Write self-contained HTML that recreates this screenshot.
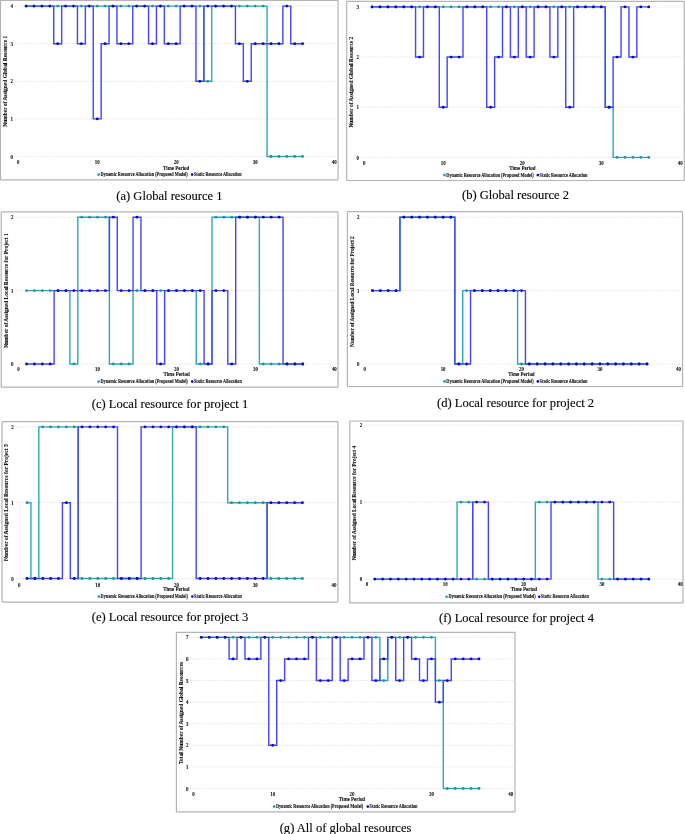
<!DOCTYPE html>
<html><head><meta charset="utf-8"><title>Resource allocation charts</title>
<style>
html,body{margin:0;padding:0;background:#fff;}
body{width:685px;height:834px;position:relative;overflow:hidden;}
text{font-family:"Liberation Serif","Times New Roman",serif;}
.tk{font-size:5.8px;font-weight:bold;fill:#111;stroke:#111;stroke-width:0.1px;}
.tp{font-size:5.8px;font-weight:bold;fill:#111;stroke:#111;stroke-width:0.1px;}
.yt{font-size:5.45px;font-weight:bold;fill:#111;stroke:#111;stroke-width:0.1px;}
.lg{font-size:5.35px;font-weight:bold;fill:#111;stroke:#111;stroke-width:0.1px;}
.cap{font-size:12.55px;fill:#000;stroke:#000;stroke-width:0.12px;}
</style></head><body>
<svg width="685" height="834" viewBox="0 0 685 834" style="position:absolute;left:0;top:0;filter:blur(0.3px)">
<g id="chart-a"><rect x="0.5" y="0.5" width="337.6" height="179.4" rx="0.6" fill="#fff" stroke="#b4b4b4" stroke-width="1.2"/>
<line x1="15" y1="156.5" x2="337" y2="156.5" stroke="#d8d8d8" stroke-width="0.8" stroke-dasharray="1 1.3"/>
<line x1="15" y1="118.9" x2="337" y2="118.9" stroke="#d8d8d8" stroke-width="0.8" stroke-dasharray="1 1.3"/>
<line x1="15" y1="81.3" x2="337" y2="81.3" stroke="#d8d8d8" stroke-width="0.8" stroke-dasharray="1 1.3"/>
<line x1="15" y1="43.7" x2="337" y2="43.7" stroke="#d8d8d8" stroke-width="0.8" stroke-dasharray="1 1.3"/>
<line x1="15" y1="6.1" x2="337" y2="6.1" stroke="#d8d8d8" stroke-width="0.8" stroke-dasharray="1 1.3"/>
<text transform="translate(13,158.6) scale(0.85,1)" class="tk" text-anchor="end">0</text>
<text transform="translate(13,121) scale(0.85,1)" class="tk" text-anchor="end">1</text>
<text transform="translate(13,83.4) scale(0.85,1)" class="tk" text-anchor="end">2</text>
<text transform="translate(13,45.8) scale(0.85,1)" class="tk" text-anchor="end">3</text>
<text transform="translate(13,8.2) scale(0.85,1)" class="tk" text-anchor="end">4</text>
<text transform="translate(18.2,163.9) scale(0.85,1)" class="tk" text-anchor="middle">0</text>
<text transform="translate(97.2,163.9) scale(0.85,1)" class="tk" text-anchor="middle">10</text>
<text transform="translate(176.2,163.9) scale(0.85,1)" class="tk" text-anchor="middle">20</text>
<text transform="translate(255.2,163.9) scale(0.85,1)" class="tk" text-anchor="middle">30</text>
<text transform="translate(334.2,163.9) scale(0.85,1)" class="tk" text-anchor="middle">40</text>
<text transform="translate(176.2,169.6) scale(0.86,1)" class="tp" text-anchor="middle">Time Period</text>
<text transform="translate(7.4,81.3) rotate(-90)" class="yt" text-anchor="middle">Number of Assigned Global Resource 1</text>
<circle cx="98.6" cy="174.6" r="1.3" fill="#1399a6"/>
<text transform="translate(100.4,176.3) scale(0.8,1)" class="lg">Dynamic Resource Allocation (Proposed Model)</text>
<circle cx="192.1" cy="174.6" r="1.3" fill="#0000e8"/>
<text transform="translate(193.9,176.3) scale(0.8,1)" class="lg">Static Resource Allocation</text>
<path d="M26.1,6.1H203.85V81.3H211.75V6.1H267.05V156.5H302.6" fill="none" stroke="#2ea8b4" stroke-width="1.4" stroke-linejoin="miter"/>
<circle cx="26.1" cy="6.1" r="1.4" fill="#1399a6"/>
<circle cx="34" cy="6.1" r="1.4" fill="#1399a6"/>
<circle cx="41.9" cy="6.1" r="1.4" fill="#1399a6"/>
<circle cx="49.8" cy="6.1" r="1.4" fill="#1399a6"/>
<circle cx="57.7" cy="6.1" r="1.4" fill="#1399a6"/>
<circle cx="65.6" cy="6.1" r="1.4" fill="#1399a6"/>
<circle cx="73.5" cy="6.1" r="1.4" fill="#1399a6"/>
<circle cx="81.4" cy="6.1" r="1.4" fill="#1399a6"/>
<circle cx="89.3" cy="6.1" r="1.4" fill="#1399a6"/>
<circle cx="97.2" cy="6.1" r="1.4" fill="#1399a6"/>
<circle cx="105.1" cy="6.1" r="1.4" fill="#1399a6"/>
<circle cx="113" cy="6.1" r="1.4" fill="#1399a6"/>
<circle cx="120.9" cy="6.1" r="1.4" fill="#1399a6"/>
<circle cx="128.8" cy="6.1" r="1.4" fill="#1399a6"/>
<circle cx="136.7" cy="6.1" r="1.4" fill="#1399a6"/>
<circle cx="144.6" cy="6.1" r="1.4" fill="#1399a6"/>
<circle cx="152.5" cy="6.1" r="1.4" fill="#1399a6"/>
<circle cx="160.4" cy="6.1" r="1.4" fill="#1399a6"/>
<circle cx="168.3" cy="6.1" r="1.4" fill="#1399a6"/>
<circle cx="176.2" cy="6.1" r="1.4" fill="#1399a6"/>
<circle cx="184.1" cy="6.1" r="1.4" fill="#1399a6"/>
<circle cx="192" cy="6.1" r="1.4" fill="#1399a6"/>
<circle cx="199.9" cy="6.1" r="1.4" fill="#1399a6"/>
<circle cx="207.8" cy="81.3" r="1.4" fill="#1399a6"/>
<circle cx="215.7" cy="6.1" r="1.4" fill="#1399a6"/>
<circle cx="223.6" cy="6.1" r="1.4" fill="#1399a6"/>
<circle cx="231.5" cy="6.1" r="1.4" fill="#1399a6"/>
<circle cx="239.4" cy="6.1" r="1.4" fill="#1399a6"/>
<circle cx="247.3" cy="6.1" r="1.4" fill="#1399a6"/>
<circle cx="255.2" cy="6.1" r="1.4" fill="#1399a6"/>
<circle cx="263.1" cy="6.1" r="1.4" fill="#1399a6"/>
<circle cx="271" cy="156.5" r="1.4" fill="#1399a6"/>
<circle cx="278.9" cy="156.5" r="1.4" fill="#1399a6"/>
<circle cx="286.8" cy="156.5" r="1.4" fill="#1399a6"/>
<circle cx="294.7" cy="156.5" r="1.4" fill="#1399a6"/>
<circle cx="302.6" cy="156.5" r="1.4" fill="#1399a6"/>
<path d="M26.1,6.1H53.75V43.7H61.65V6.1H77.45V43.7H85.35V6.1H93.25V118.9H101.15V43.7H109.05V6.1H116.95V43.7H132.75V6.1H148.55V43.7H156.45V6.1H164.35V43.7H180.15V6.1H195.95V81.3H203.85V6.1H235.45V43.7H243.35V81.3H251.25V43.7H282.85V6.1H290.75V43.7H302.6" fill="none" stroke="#4444ff" stroke-width="1.4" stroke-linejoin="miter"/>
<circle cx="26.1" cy="6.1" r="1.4" fill="#0000e8"/>
<circle cx="34" cy="6.1" r="1.4" fill="#0000e8"/>
<circle cx="41.9" cy="6.1" r="1.4" fill="#0000e8"/>
<circle cx="49.8" cy="6.1" r="1.4" fill="#0000e8"/>
<circle cx="57.7" cy="43.7" r="1.4" fill="#0000e8"/>
<circle cx="65.6" cy="6.1" r="1.4" fill="#0000e8"/>
<circle cx="73.5" cy="6.1" r="1.4" fill="#0000e8"/>
<circle cx="81.4" cy="43.7" r="1.4" fill="#0000e8"/>
<circle cx="89.3" cy="6.1" r="1.4" fill="#0000e8"/>
<circle cx="97.2" cy="118.9" r="1.4" fill="#0000e8"/>
<circle cx="105.1" cy="43.7" r="1.4" fill="#0000e8"/>
<circle cx="113" cy="6.1" r="1.4" fill="#0000e8"/>
<circle cx="120.9" cy="43.7" r="1.4" fill="#0000e8"/>
<circle cx="128.8" cy="43.7" r="1.4" fill="#0000e8"/>
<circle cx="136.7" cy="6.1" r="1.4" fill="#0000e8"/>
<circle cx="144.6" cy="6.1" r="1.4" fill="#0000e8"/>
<circle cx="152.5" cy="43.7" r="1.4" fill="#0000e8"/>
<circle cx="160.4" cy="6.1" r="1.4" fill="#0000e8"/>
<circle cx="168.3" cy="43.7" r="1.4" fill="#0000e8"/>
<circle cx="176.2" cy="43.7" r="1.4" fill="#0000e8"/>
<circle cx="184.1" cy="6.1" r="1.4" fill="#0000e8"/>
<circle cx="192" cy="6.1" r="1.4" fill="#0000e8"/>
<circle cx="199.9" cy="81.3" r="1.4" fill="#0000e8"/>
<circle cx="207.8" cy="6.1" r="1.4" fill="#0000e8"/>
<circle cx="215.7" cy="6.1" r="1.4" fill="#0000e8"/>
<circle cx="223.6" cy="6.1" r="1.4" fill="#0000e8"/>
<circle cx="231.5" cy="6.1" r="1.4" fill="#0000e8"/>
<circle cx="239.4" cy="43.7" r="1.4" fill="#0000e8"/>
<circle cx="247.3" cy="81.3" r="1.4" fill="#0000e8"/>
<circle cx="255.2" cy="43.7" r="1.4" fill="#0000e8"/>
<circle cx="263.1" cy="43.7" r="1.4" fill="#0000e8"/>
<circle cx="271" cy="43.7" r="1.4" fill="#0000e8"/>
<circle cx="278.9" cy="43.7" r="1.4" fill="#0000e8"/>
<circle cx="286.8" cy="6.1" r="1.4" fill="#0000e8"/>
<circle cx="294.7" cy="43.7" r="1.4" fill="#0000e8"/>
<circle cx="302.6" cy="43.7" r="1.4" fill="#0000e8"/>
<text x="116.3" y="200.3" class="cap">(a) Global resource 1</text></g>
<g id="chart-b"><rect x="346.7" y="1.4" width="337.6" height="179.1" rx="0.6" fill="#fff" stroke="#b4b4b4" stroke-width="1.2"/>
<line x1="361.2" y1="157.4" x2="683" y2="157.4" stroke="#d8d8d8" stroke-width="0.8" stroke-dasharray="1 1.3"/>
<line x1="361.2" y1="107.23" x2="683" y2="107.23" stroke="#d8d8d8" stroke-width="0.8" stroke-dasharray="1 1.3"/>
<line x1="361.2" y1="57.06" x2="683" y2="57.06" stroke="#d8d8d8" stroke-width="0.8" stroke-dasharray="1 1.3"/>
<line x1="361.2" y1="6.89" x2="683" y2="6.89" stroke="#d8d8d8" stroke-width="0.8" stroke-dasharray="1 1.3"/>
<text transform="translate(358.9,159.5) scale(0.85,1)" class="tk" text-anchor="end">0</text>
<text transform="translate(358.9,109.33) scale(0.85,1)" class="tk" text-anchor="end">1</text>
<text transform="translate(358.9,59.16) scale(0.85,1)" class="tk" text-anchor="end">2</text>
<text transform="translate(358.9,8.99) scale(0.85,1)" class="tk" text-anchor="end">3</text>
<text transform="translate(364.2,165.3) scale(0.85,1)" class="tk" text-anchor="middle">0</text>
<text transform="translate(443.23,165.3) scale(0.85,1)" class="tk" text-anchor="middle">10</text>
<text transform="translate(522.26,165.3) scale(0.85,1)" class="tk" text-anchor="middle">20</text>
<text transform="translate(601.29,165.3) scale(0.85,1)" class="tk" text-anchor="middle">30</text>
<text transform="translate(680.32,165.3) scale(0.85,1)" class="tk" text-anchor="middle">40</text>
<text transform="translate(522.4,170) scale(0.86,1)" class="tp" text-anchor="middle">Time Period</text>
<text transform="translate(353,82.15) rotate(-90)" class="yt" text-anchor="middle">Number of Assigned Global Resource 2</text>
<circle cx="444.5" cy="175.1" r="1.3" fill="#1399a6"/>
<text transform="translate(446.3,176.8) scale(0.8,1)" class="lg">Dynamic Resource Allocation (Proposed Model)</text>
<circle cx="537.8" cy="175.1" r="1.3" fill="#0000e8"/>
<text transform="translate(539.6,176.8) scale(0.8,1)" class="lg">Static Resource Allocation</text>
<path d="M372.1,6.89H605.24V107.23H613.14V157.4H648.71" fill="none" stroke="#2ea8b4" stroke-width="1.4" stroke-linejoin="miter"/>
<circle cx="372.1" cy="6.89" r="1.4" fill="#1399a6"/>
<circle cx="380.01" cy="6.89" r="1.4" fill="#1399a6"/>
<circle cx="387.91" cy="6.89" r="1.4" fill="#1399a6"/>
<circle cx="395.81" cy="6.89" r="1.4" fill="#1399a6"/>
<circle cx="403.71" cy="6.89" r="1.4" fill="#1399a6"/>
<circle cx="411.62" cy="6.89" r="1.4" fill="#1399a6"/>
<circle cx="419.52" cy="6.89" r="1.4" fill="#1399a6"/>
<circle cx="427.42" cy="6.89" r="1.4" fill="#1399a6"/>
<circle cx="435.33" cy="6.89" r="1.4" fill="#1399a6"/>
<circle cx="443.23" cy="6.89" r="1.4" fill="#1399a6"/>
<circle cx="451.13" cy="6.89" r="1.4" fill="#1399a6"/>
<circle cx="459.04" cy="6.89" r="1.4" fill="#1399a6"/>
<circle cx="466.94" cy="6.89" r="1.4" fill="#1399a6"/>
<circle cx="474.84" cy="6.89" r="1.4" fill="#1399a6"/>
<circle cx="482.75" cy="6.89" r="1.4" fill="#1399a6"/>
<circle cx="490.65" cy="6.89" r="1.4" fill="#1399a6"/>
<circle cx="498.55" cy="6.89" r="1.4" fill="#1399a6"/>
<circle cx="506.45" cy="6.89" r="1.4" fill="#1399a6"/>
<circle cx="514.36" cy="6.89" r="1.4" fill="#1399a6"/>
<circle cx="522.26" cy="6.89" r="1.4" fill="#1399a6"/>
<circle cx="530.16" cy="6.89" r="1.4" fill="#1399a6"/>
<circle cx="538.07" cy="6.89" r="1.4" fill="#1399a6"/>
<circle cx="545.97" cy="6.89" r="1.4" fill="#1399a6"/>
<circle cx="553.87" cy="6.89" r="1.4" fill="#1399a6"/>
<circle cx="561.77" cy="6.89" r="1.4" fill="#1399a6"/>
<circle cx="569.68" cy="6.89" r="1.4" fill="#1399a6"/>
<circle cx="577.58" cy="6.89" r="1.4" fill="#1399a6"/>
<circle cx="585.48" cy="6.89" r="1.4" fill="#1399a6"/>
<circle cx="593.39" cy="6.89" r="1.4" fill="#1399a6"/>
<circle cx="601.29" cy="6.89" r="1.4" fill="#1399a6"/>
<circle cx="609.19" cy="107.23" r="1.4" fill="#1399a6"/>
<circle cx="617.1" cy="157.4" r="1.4" fill="#1399a6"/>
<circle cx="625" cy="157.4" r="1.4" fill="#1399a6"/>
<circle cx="632.9" cy="157.4" r="1.4" fill="#1399a6"/>
<circle cx="640.8" cy="157.4" r="1.4" fill="#1399a6"/>
<circle cx="648.71" cy="157.4" r="1.4" fill="#1399a6"/>
<path d="M372.1,6.89H415.57V57.06H423.47V6.89H439.28V107.23H447.18V57.06H462.99V6.89H486.7V107.23H494.6V57.06H502.5V6.89H510.41V57.06H518.31V6.89H526.21V57.06H534.11V6.89H549.92V57.06H557.82V6.89H565.73V107.23H573.63V6.89H605.24V107.23H613.14V57.06H621.05V6.89H628.95V57.06H636.85V6.89H648.71" fill="none" stroke="#4444ff" stroke-width="1.4" stroke-linejoin="miter"/>
<circle cx="372.1" cy="6.89" r="1.4" fill="#0000e8"/>
<circle cx="380.01" cy="6.89" r="1.4" fill="#0000e8"/>
<circle cx="387.91" cy="6.89" r="1.4" fill="#0000e8"/>
<circle cx="395.81" cy="6.89" r="1.4" fill="#0000e8"/>
<circle cx="403.71" cy="6.89" r="1.4" fill="#0000e8"/>
<circle cx="411.62" cy="6.89" r="1.4" fill="#0000e8"/>
<circle cx="419.52" cy="57.06" r="1.4" fill="#0000e8"/>
<circle cx="427.42" cy="6.89" r="1.4" fill="#0000e8"/>
<circle cx="435.33" cy="6.89" r="1.4" fill="#0000e8"/>
<circle cx="443.23" cy="107.23" r="1.4" fill="#0000e8"/>
<circle cx="451.13" cy="57.06" r="1.4" fill="#0000e8"/>
<circle cx="459.04" cy="57.06" r="1.4" fill="#0000e8"/>
<circle cx="466.94" cy="6.89" r="1.4" fill="#0000e8"/>
<circle cx="474.84" cy="6.89" r="1.4" fill="#0000e8"/>
<circle cx="482.75" cy="6.89" r="1.4" fill="#0000e8"/>
<circle cx="490.65" cy="107.23" r="1.4" fill="#0000e8"/>
<circle cx="498.55" cy="57.06" r="1.4" fill="#0000e8"/>
<circle cx="506.45" cy="6.89" r="1.4" fill="#0000e8"/>
<circle cx="514.36" cy="57.06" r="1.4" fill="#0000e8"/>
<circle cx="522.26" cy="6.89" r="1.4" fill="#0000e8"/>
<circle cx="530.16" cy="57.06" r="1.4" fill="#0000e8"/>
<circle cx="538.07" cy="6.89" r="1.4" fill="#0000e8"/>
<circle cx="545.97" cy="6.89" r="1.4" fill="#0000e8"/>
<circle cx="553.87" cy="57.06" r="1.4" fill="#0000e8"/>
<circle cx="561.77" cy="6.89" r="1.4" fill="#0000e8"/>
<circle cx="569.68" cy="107.23" r="1.4" fill="#0000e8"/>
<circle cx="577.58" cy="6.89" r="1.4" fill="#0000e8"/>
<circle cx="585.48" cy="6.89" r="1.4" fill="#0000e8"/>
<circle cx="593.39" cy="6.89" r="1.4" fill="#0000e8"/>
<circle cx="601.29" cy="6.89" r="1.4" fill="#0000e8"/>
<circle cx="609.19" cy="107.23" r="1.4" fill="#0000e8"/>
<circle cx="617.1" cy="57.06" r="1.4" fill="#0000e8"/>
<circle cx="625" cy="6.89" r="1.4" fill="#0000e8"/>
<circle cx="632.9" cy="57.06" r="1.4" fill="#0000e8"/>
<circle cx="640.8" cy="6.89" r="1.4" fill="#0000e8"/>
<circle cx="648.71" cy="6.89" r="1.4" fill="#0000e8"/>
<text x="462" y="198.9" class="cap">(b) Global resource 2</text></g>
<g id="chart-c"><rect x="1.2" y="211.9" width="336.8" height="175.2" rx="0.6" fill="#fff" stroke="#b4b4b4" stroke-width="1.2"/>
<line x1="15.5" y1="364" x2="337" y2="364" stroke="#d8d8d8" stroke-width="0.8" stroke-dasharray="1 1.3"/>
<line x1="15.5" y1="290.6" x2="337" y2="290.6" stroke="#d8d8d8" stroke-width="0.8" stroke-dasharray="1 1.3"/>
<line x1="15.5" y1="217.2" x2="337" y2="217.2" stroke="#d8d8d8" stroke-width="0.8" stroke-dasharray="1 1.3"/>
<text transform="translate(13.5,366.1) scale(0.85,1)" class="tk" text-anchor="end">0</text>
<text transform="translate(13.5,292.7) scale(0.85,1)" class="tk" text-anchor="end">1</text>
<text transform="translate(13.5,219.3) scale(0.85,1)" class="tk" text-anchor="end">2</text>
<text transform="translate(18.6,370.8) scale(0.85,1)" class="tk" text-anchor="middle">0</text>
<text transform="translate(97.54,370.8) scale(0.85,1)" class="tk" text-anchor="middle">10</text>
<text transform="translate(176.48,370.8) scale(0.85,1)" class="tk" text-anchor="middle">20</text>
<text transform="translate(255.42,370.8) scale(0.85,1)" class="tk" text-anchor="middle">30</text>
<text transform="translate(334.36,370.8) scale(0.85,1)" class="tk" text-anchor="middle">40</text>
<text transform="translate(176.6,376.4) scale(0.86,1)" class="tp" text-anchor="middle">Time Period</text>
<text transform="translate(7.6,290.6) rotate(-90)" class="yt" text-anchor="middle">Number of Assigned Local Resource for Project 1</text>
<circle cx="98.7" cy="381.6" r="1.3" fill="#1399a6"/>
<text transform="translate(100.5,383.3) scale(0.8,1)" class="lg">Dynamic Resource Allocation (Proposed Model)</text>
<circle cx="192.2" cy="381.6" r="1.3" fill="#0000e8"/>
<text transform="translate(194,383.3) scale(0.8,1)" class="lg">Static Resource Allocation</text>
<path d="M26.49,290.6H69.91V364H77.81V217.2H109.38V364H133.06V290.6H196.22V364H212V217.2H259.37V364H302.78" fill="none" stroke="#2ea8b4" stroke-width="1.4" stroke-linejoin="miter"/>
<circle cx="26.49" cy="290.6" r="1.4" fill="#1399a6"/>
<circle cx="34.39" cy="290.6" r="1.4" fill="#1399a6"/>
<circle cx="42.28" cy="290.6" r="1.4" fill="#1399a6"/>
<circle cx="50.18" cy="290.6" r="1.4" fill="#1399a6"/>
<circle cx="58.07" cy="290.6" r="1.4" fill="#1399a6"/>
<circle cx="65.96" cy="290.6" r="1.4" fill="#1399a6"/>
<circle cx="73.86" cy="364" r="1.4" fill="#1399a6"/>
<circle cx="81.75" cy="217.2" r="1.4" fill="#1399a6"/>
<circle cx="89.65" cy="217.2" r="1.4" fill="#1399a6"/>
<circle cx="97.54" cy="217.2" r="1.4" fill="#1399a6"/>
<circle cx="105.43" cy="217.2" r="1.4" fill="#1399a6"/>
<circle cx="113.33" cy="364" r="1.4" fill="#1399a6"/>
<circle cx="121.22" cy="364" r="1.4" fill="#1399a6"/>
<circle cx="129.12" cy="364" r="1.4" fill="#1399a6"/>
<circle cx="137.01" cy="290.6" r="1.4" fill="#1399a6"/>
<circle cx="144.9" cy="290.6" r="1.4" fill="#1399a6"/>
<circle cx="152.8" cy="290.6" r="1.4" fill="#1399a6"/>
<circle cx="160.69" cy="290.6" r="1.4" fill="#1399a6"/>
<circle cx="168.59" cy="290.6" r="1.4" fill="#1399a6"/>
<circle cx="176.48" cy="290.6" r="1.4" fill="#1399a6"/>
<circle cx="184.37" cy="290.6" r="1.4" fill="#1399a6"/>
<circle cx="192.27" cy="290.6" r="1.4" fill="#1399a6"/>
<circle cx="200.16" cy="364" r="1.4" fill="#1399a6"/>
<circle cx="208.06" cy="364" r="1.4" fill="#1399a6"/>
<circle cx="215.95" cy="217.2" r="1.4" fill="#1399a6"/>
<circle cx="223.84" cy="217.2" r="1.4" fill="#1399a6"/>
<circle cx="231.74" cy="217.2" r="1.4" fill="#1399a6"/>
<circle cx="239.63" cy="217.2" r="1.4" fill="#1399a6"/>
<circle cx="247.53" cy="217.2" r="1.4" fill="#1399a6"/>
<circle cx="255.42" cy="217.2" r="1.4" fill="#1399a6"/>
<circle cx="263.31" cy="364" r="1.4" fill="#1399a6"/>
<circle cx="271.21" cy="364" r="1.4" fill="#1399a6"/>
<circle cx="279.1" cy="364" r="1.4" fill="#1399a6"/>
<circle cx="287" cy="364" r="1.4" fill="#1399a6"/>
<circle cx="294.89" cy="364" r="1.4" fill="#1399a6"/>
<circle cx="302.78" cy="364" r="1.4" fill="#1399a6"/>
<path d="M26.49,364H54.12V290.6H109.38V217.2H117.28V290.6H133.06V217.2H140.96V290.6H156.75V364H164.64V290.6H204.11V364H212V290.6H227.79V364H235.69V217.2H283.05V364H302.78" fill="none" stroke="#4444ff" stroke-width="1.4" stroke-linejoin="miter"/>
<circle cx="26.49" cy="364" r="1.4" fill="#0000e8"/>
<circle cx="34.39" cy="364" r="1.4" fill="#0000e8"/>
<circle cx="42.28" cy="364" r="1.4" fill="#0000e8"/>
<circle cx="50.18" cy="364" r="1.4" fill="#0000e8"/>
<circle cx="58.07" cy="290.6" r="1.4" fill="#0000e8"/>
<circle cx="65.96" cy="290.6" r="1.4" fill="#0000e8"/>
<circle cx="73.86" cy="290.6" r="1.4" fill="#0000e8"/>
<circle cx="81.75" cy="290.6" r="1.4" fill="#0000e8"/>
<circle cx="89.65" cy="290.6" r="1.4" fill="#0000e8"/>
<circle cx="97.54" cy="290.6" r="1.4" fill="#0000e8"/>
<circle cx="105.43" cy="290.6" r="1.4" fill="#0000e8"/>
<circle cx="113.33" cy="217.2" r="1.4" fill="#0000e8"/>
<circle cx="121.22" cy="290.6" r="1.4" fill="#0000e8"/>
<circle cx="129.12" cy="290.6" r="1.4" fill="#0000e8"/>
<circle cx="137.01" cy="217.2" r="1.4" fill="#0000e8"/>
<circle cx="144.9" cy="290.6" r="1.4" fill="#0000e8"/>
<circle cx="152.8" cy="290.6" r="1.4" fill="#0000e8"/>
<circle cx="160.69" cy="364" r="1.4" fill="#0000e8"/>
<circle cx="168.59" cy="290.6" r="1.4" fill="#0000e8"/>
<circle cx="176.48" cy="290.6" r="1.4" fill="#0000e8"/>
<circle cx="184.37" cy="290.6" r="1.4" fill="#0000e8"/>
<circle cx="192.27" cy="290.6" r="1.4" fill="#0000e8"/>
<circle cx="200.16" cy="290.6" r="1.4" fill="#0000e8"/>
<circle cx="208.06" cy="364" r="1.4" fill="#0000e8"/>
<circle cx="215.95" cy="290.6" r="1.4" fill="#0000e8"/>
<circle cx="223.84" cy="290.6" r="1.4" fill="#0000e8"/>
<circle cx="231.74" cy="364" r="1.4" fill="#0000e8"/>
<circle cx="239.63" cy="217.2" r="1.4" fill="#0000e8"/>
<circle cx="247.53" cy="217.2" r="1.4" fill="#0000e8"/>
<circle cx="255.42" cy="217.2" r="1.4" fill="#0000e8"/>
<circle cx="263.31" cy="217.2" r="1.4" fill="#0000e8"/>
<circle cx="271.21" cy="217.2" r="1.4" fill="#0000e8"/>
<circle cx="279.1" cy="217.2" r="1.4" fill="#0000e8"/>
<circle cx="287" cy="364" r="1.4" fill="#0000e8"/>
<circle cx="294.89" cy="364" r="1.4" fill="#0000e8"/>
<circle cx="302.78" cy="364" r="1.4" fill="#0000e8"/>
<text x="91.8" y="407.7" class="cap">(c) Local resource for project 1</text></g>
<g id="chart-d"><rect x="347.4" y="211.7" width="335.1" height="174.8" rx="0.6" fill="#fff" stroke="#b4b4b4" stroke-width="1.2"/>
<line x1="361.5" y1="364" x2="681.3" y2="364" stroke="#d8d8d8" stroke-width="0.8" stroke-dasharray="1 1.3"/>
<line x1="361.5" y1="290.6" x2="681.3" y2="290.6" stroke="#d8d8d8" stroke-width="0.8" stroke-dasharray="1 1.3"/>
<line x1="361.5" y1="217.2" x2="681.3" y2="217.2" stroke="#d8d8d8" stroke-width="0.8" stroke-dasharray="1 1.3"/>
<text transform="translate(359.4,366.1) scale(0.85,1)" class="tk" text-anchor="end">0</text>
<text transform="translate(359.4,292.7) scale(0.85,1)" class="tk" text-anchor="end">1</text>
<text transform="translate(359.4,219.3) scale(0.85,1)" class="tk" text-anchor="end">2</text>
<text transform="translate(364.66,371.3) scale(0.85,1)" class="tk" text-anchor="middle">0</text>
<text transform="translate(443.09,371.3) scale(0.85,1)" class="tk" text-anchor="middle">10</text>
<text transform="translate(521.52,371.3) scale(0.85,1)" class="tk" text-anchor="middle">20</text>
<text transform="translate(599.95,371.3) scale(0.85,1)" class="tk" text-anchor="middle">30</text>
<text transform="translate(678.38,371.3) scale(0.85,1)" class="tk" text-anchor="middle">40</text>
<text transform="translate(521.5,375.9) scale(0.86,1)" class="tp" text-anchor="middle">Time Period</text>
<text transform="translate(353.8,291.6) rotate(-90)" class="yt" text-anchor="middle" style="font-size:5.25px">Number of Assigned Local Resource for Project 2</text>
<circle cx="444.5" cy="381.4" r="1.3" fill="#1399a6"/>
<text transform="translate(446.3,383.1) scale(0.8,1)" class="lg">Dynamic Resource Allocation (Proposed Model)</text>
<circle cx="537.8" cy="381.4" r="1.3" fill="#0000e8"/>
<text transform="translate(539.6,383.1) scale(0.8,1)" class="lg">Static Resource Allocation</text>
<path d="M372.5,290.6H399.95V217.2H454.85V364H462.7V290.6H517.6V364H647.01" fill="none" stroke="#2ea8b4" stroke-width="1.4" stroke-linejoin="miter"/>
<circle cx="372.5" cy="290.6" r="1.4" fill="#1399a6"/>
<circle cx="380.35" cy="290.6" r="1.4" fill="#1399a6"/>
<circle cx="388.19" cy="290.6" r="1.4" fill="#1399a6"/>
<circle cx="396.03" cy="290.6" r="1.4" fill="#1399a6"/>
<circle cx="403.88" cy="217.2" r="1.4" fill="#1399a6"/>
<circle cx="411.72" cy="217.2" r="1.4" fill="#1399a6"/>
<circle cx="419.56" cy="217.2" r="1.4" fill="#1399a6"/>
<circle cx="427.4" cy="217.2" r="1.4" fill="#1399a6"/>
<circle cx="435.25" cy="217.2" r="1.4" fill="#1399a6"/>
<circle cx="443.09" cy="217.2" r="1.4" fill="#1399a6"/>
<circle cx="450.93" cy="217.2" r="1.4" fill="#1399a6"/>
<circle cx="458.78" cy="364" r="1.4" fill="#1399a6"/>
<circle cx="466.62" cy="290.6" r="1.4" fill="#1399a6"/>
<circle cx="474.46" cy="290.6" r="1.4" fill="#1399a6"/>
<circle cx="482.31" cy="290.6" r="1.4" fill="#1399a6"/>
<circle cx="490.15" cy="290.6" r="1.4" fill="#1399a6"/>
<circle cx="497.99" cy="290.6" r="1.4" fill="#1399a6"/>
<circle cx="505.83" cy="290.6" r="1.4" fill="#1399a6"/>
<circle cx="513.68" cy="290.6" r="1.4" fill="#1399a6"/>
<circle cx="521.52" cy="364" r="1.4" fill="#1399a6"/>
<circle cx="529.36" cy="364" r="1.4" fill="#1399a6"/>
<circle cx="537.21" cy="364" r="1.4" fill="#1399a6"/>
<circle cx="545.05" cy="364" r="1.4" fill="#1399a6"/>
<circle cx="552.89" cy="364" r="1.4" fill="#1399a6"/>
<circle cx="560.74" cy="364" r="1.4" fill="#1399a6"/>
<circle cx="568.58" cy="364" r="1.4" fill="#1399a6"/>
<circle cx="576.42" cy="364" r="1.4" fill="#1399a6"/>
<circle cx="584.26" cy="364" r="1.4" fill="#1399a6"/>
<circle cx="592.11" cy="364" r="1.4" fill="#1399a6"/>
<circle cx="599.95" cy="364" r="1.4" fill="#1399a6"/>
<circle cx="607.79" cy="364" r="1.4" fill="#1399a6"/>
<circle cx="615.64" cy="364" r="1.4" fill="#1399a6"/>
<circle cx="623.48" cy="364" r="1.4" fill="#1399a6"/>
<circle cx="631.32" cy="364" r="1.4" fill="#1399a6"/>
<circle cx="639.16" cy="364" r="1.4" fill="#1399a6"/>
<circle cx="647.01" cy="364" r="1.4" fill="#1399a6"/>
<path d="M372.5,290.6H399.95V217.2H454.85V364H470.54V290.6H525.44V364H647.01" fill="none" stroke="#4444ff" stroke-width="1.4" stroke-linejoin="miter"/>
<circle cx="372.5" cy="290.6" r="1.4" fill="#0000e8"/>
<circle cx="380.35" cy="290.6" r="1.4" fill="#0000e8"/>
<circle cx="388.19" cy="290.6" r="1.4" fill="#0000e8"/>
<circle cx="396.03" cy="290.6" r="1.4" fill="#0000e8"/>
<circle cx="403.88" cy="217.2" r="1.4" fill="#0000e8"/>
<circle cx="411.72" cy="217.2" r="1.4" fill="#0000e8"/>
<circle cx="419.56" cy="217.2" r="1.4" fill="#0000e8"/>
<circle cx="427.4" cy="217.2" r="1.4" fill="#0000e8"/>
<circle cx="435.25" cy="217.2" r="1.4" fill="#0000e8"/>
<circle cx="443.09" cy="217.2" r="1.4" fill="#0000e8"/>
<circle cx="450.93" cy="217.2" r="1.4" fill="#0000e8"/>
<circle cx="458.78" cy="364" r="1.4" fill="#0000e8"/>
<circle cx="466.62" cy="364" r="1.4" fill="#0000e8"/>
<circle cx="474.46" cy="290.6" r="1.4" fill="#0000e8"/>
<circle cx="482.31" cy="290.6" r="1.4" fill="#0000e8"/>
<circle cx="490.15" cy="290.6" r="1.4" fill="#0000e8"/>
<circle cx="497.99" cy="290.6" r="1.4" fill="#0000e8"/>
<circle cx="505.83" cy="290.6" r="1.4" fill="#0000e8"/>
<circle cx="513.68" cy="290.6" r="1.4" fill="#0000e8"/>
<circle cx="521.52" cy="290.6" r="1.4" fill="#0000e8"/>
<circle cx="529.36" cy="364" r="1.4" fill="#0000e8"/>
<circle cx="537.21" cy="364" r="1.4" fill="#0000e8"/>
<circle cx="545.05" cy="364" r="1.4" fill="#0000e8"/>
<circle cx="552.89" cy="364" r="1.4" fill="#0000e8"/>
<circle cx="560.74" cy="364" r="1.4" fill="#0000e8"/>
<circle cx="568.58" cy="364" r="1.4" fill="#0000e8"/>
<circle cx="576.42" cy="364" r="1.4" fill="#0000e8"/>
<circle cx="584.26" cy="364" r="1.4" fill="#0000e8"/>
<circle cx="592.11" cy="364" r="1.4" fill="#0000e8"/>
<circle cx="599.95" cy="364" r="1.4" fill="#0000e8"/>
<circle cx="607.79" cy="364" r="1.4" fill="#0000e8"/>
<circle cx="615.64" cy="364" r="1.4" fill="#0000e8"/>
<circle cx="623.48" cy="364" r="1.4" fill="#0000e8"/>
<circle cx="631.32" cy="364" r="1.4" fill="#0000e8"/>
<circle cx="639.16" cy="364" r="1.4" fill="#0000e8"/>
<circle cx="647.01" cy="364" r="1.4" fill="#0000e8"/>
<text x="437" y="407.3" class="cap">(d) Local resource for project 2</text></g>
<g id="chart-e"><rect x="2" y="421.6" width="335.9" height="180.5" rx="0.6" fill="#fff" stroke="#b4b4b4" stroke-width="1.2"/>
<line x1="16" y1="578.5" x2="336.8" y2="578.5" stroke="#d8d8d8" stroke-width="0.8" stroke-dasharray="1 1.3"/>
<line x1="16" y1="502.7" x2="336.8" y2="502.7" stroke="#d8d8d8" stroke-width="0.8" stroke-dasharray="1 1.3"/>
<line x1="16" y1="426.9" x2="336.8" y2="426.9" stroke="#d8d8d8" stroke-width="0.8" stroke-dasharray="1 1.3"/>
<text transform="translate(13.8,580.6) scale(0.85,1)" class="tk" text-anchor="end">0</text>
<text transform="translate(13.8,504.8) scale(0.85,1)" class="tk" text-anchor="end">1</text>
<text transform="translate(13.8,429) scale(0.85,1)" class="tk" text-anchor="end">2</text>
<text transform="translate(19.13,586.5) scale(0.85,1)" class="tk" text-anchor="middle">0</text>
<text transform="translate(97.83,586.5) scale(0.85,1)" class="tk" text-anchor="middle">10</text>
<text transform="translate(176.53,586.5) scale(0.85,1)" class="tk" text-anchor="middle">20</text>
<text transform="translate(255.23,586.5) scale(0.85,1)" class="tk" text-anchor="middle">30</text>
<text transform="translate(333.93,586.5) scale(0.85,1)" class="tk" text-anchor="middle">40</text>
<text transform="translate(176.4,590.8) scale(0.86,1)" class="tp" text-anchor="middle">Time Period</text>
<text transform="translate(8.3,502.7) rotate(-90)" class="yt" text-anchor="middle" style="font-size:5.55px">Number of Assigned Local Resource for Project 3</text>
<circle cx="98.8" cy="596.5" r="1.3" fill="#1399a6"/>
<text transform="translate(100.6,598.2) scale(0.8,1)" class="lg">Dynamic Resource Allocation (Proposed Model)</text>
<circle cx="192.3" cy="596.5" r="1.3" fill="#0000e8"/>
<text transform="translate(194.1,598.2) scale(0.8,1)" class="lg">Static Resource Allocation</text>
<path d="M27,502.7H30.93V578.5H38.8V426.9H78.16V578.5H172.59V426.9H227.69V502.7H267.04V578.5H302.45" fill="none" stroke="#2ea8b4" stroke-width="1.4" stroke-linejoin="miter"/>
<circle cx="27" cy="502.7" r="1.4" fill="#1399a6"/>
<circle cx="34.87" cy="578.5" r="1.4" fill="#1399a6"/>
<circle cx="42.74" cy="426.9" r="1.4" fill="#1399a6"/>
<circle cx="50.61" cy="426.9" r="1.4" fill="#1399a6"/>
<circle cx="58.48" cy="426.9" r="1.4" fill="#1399a6"/>
<circle cx="66.35" cy="426.9" r="1.4" fill="#1399a6"/>
<circle cx="74.22" cy="426.9" r="1.4" fill="#1399a6"/>
<circle cx="82.09" cy="578.5" r="1.4" fill="#1399a6"/>
<circle cx="89.96" cy="578.5" r="1.4" fill="#1399a6"/>
<circle cx="97.83" cy="578.5" r="1.4" fill="#1399a6"/>
<circle cx="105.7" cy="578.5" r="1.4" fill="#1399a6"/>
<circle cx="113.57" cy="578.5" r="1.4" fill="#1399a6"/>
<circle cx="121.44" cy="578.5" r="1.4" fill="#1399a6"/>
<circle cx="129.31" cy="578.5" r="1.4" fill="#1399a6"/>
<circle cx="137.18" cy="578.5" r="1.4" fill="#1399a6"/>
<circle cx="145.05" cy="578.5" r="1.4" fill="#1399a6"/>
<circle cx="152.92" cy="578.5" r="1.4" fill="#1399a6"/>
<circle cx="160.79" cy="578.5" r="1.4" fill="#1399a6"/>
<circle cx="168.66" cy="578.5" r="1.4" fill="#1399a6"/>
<circle cx="176.53" cy="426.9" r="1.4" fill="#1399a6"/>
<circle cx="184.4" cy="426.9" r="1.4" fill="#1399a6"/>
<circle cx="192.27" cy="426.9" r="1.4" fill="#1399a6"/>
<circle cx="200.14" cy="426.9" r="1.4" fill="#1399a6"/>
<circle cx="208.01" cy="426.9" r="1.4" fill="#1399a6"/>
<circle cx="215.88" cy="426.9" r="1.4" fill="#1399a6"/>
<circle cx="223.75" cy="426.9" r="1.4" fill="#1399a6"/>
<circle cx="231.62" cy="502.7" r="1.4" fill="#1399a6"/>
<circle cx="239.49" cy="502.7" r="1.4" fill="#1399a6"/>
<circle cx="247.36" cy="502.7" r="1.4" fill="#1399a6"/>
<circle cx="255.23" cy="502.7" r="1.4" fill="#1399a6"/>
<circle cx="263.1" cy="502.7" r="1.4" fill="#1399a6"/>
<circle cx="270.97" cy="578.5" r="1.4" fill="#1399a6"/>
<circle cx="278.84" cy="578.5" r="1.4" fill="#1399a6"/>
<circle cx="286.71" cy="578.5" r="1.4" fill="#1399a6"/>
<circle cx="294.58" cy="578.5" r="1.4" fill="#1399a6"/>
<circle cx="302.45" cy="578.5" r="1.4" fill="#1399a6"/>
<path d="M27,578.5H62.42V502.7H70.28V578.5H78.16V426.9H117.5V578.5H141.12V426.9H196.2V578.5H267.04V502.7H302.45" fill="none" stroke="#4444ff" stroke-width="1.4" stroke-linejoin="miter"/>
<circle cx="27" cy="578.5" r="1.4" fill="#0000e8"/>
<circle cx="34.87" cy="578.5" r="1.4" fill="#0000e8"/>
<circle cx="42.74" cy="578.5" r="1.4" fill="#0000e8"/>
<circle cx="50.61" cy="578.5" r="1.4" fill="#0000e8"/>
<circle cx="58.48" cy="578.5" r="1.4" fill="#0000e8"/>
<circle cx="66.35" cy="502.7" r="1.4" fill="#0000e8"/>
<circle cx="74.22" cy="578.5" r="1.4" fill="#0000e8"/>
<circle cx="82.09" cy="426.9" r="1.4" fill="#0000e8"/>
<circle cx="89.96" cy="426.9" r="1.4" fill="#0000e8"/>
<circle cx="97.83" cy="426.9" r="1.4" fill="#0000e8"/>
<circle cx="105.7" cy="426.9" r="1.4" fill="#0000e8"/>
<circle cx="113.57" cy="426.9" r="1.4" fill="#0000e8"/>
<circle cx="121.44" cy="578.5" r="1.4" fill="#0000e8"/>
<circle cx="129.31" cy="578.5" r="1.4" fill="#0000e8"/>
<circle cx="137.18" cy="578.5" r="1.4" fill="#0000e8"/>
<circle cx="145.05" cy="426.9" r="1.4" fill="#0000e8"/>
<circle cx="152.92" cy="426.9" r="1.4" fill="#0000e8"/>
<circle cx="160.79" cy="426.9" r="1.4" fill="#0000e8"/>
<circle cx="168.66" cy="426.9" r="1.4" fill="#0000e8"/>
<circle cx="176.53" cy="426.9" r="1.4" fill="#0000e8"/>
<circle cx="184.4" cy="426.9" r="1.4" fill="#0000e8"/>
<circle cx="192.27" cy="426.9" r="1.4" fill="#0000e8"/>
<circle cx="200.14" cy="578.5" r="1.4" fill="#0000e8"/>
<circle cx="208.01" cy="578.5" r="1.4" fill="#0000e8"/>
<circle cx="215.88" cy="578.5" r="1.4" fill="#0000e8"/>
<circle cx="223.75" cy="578.5" r="1.4" fill="#0000e8"/>
<circle cx="231.62" cy="578.5" r="1.4" fill="#0000e8"/>
<circle cx="239.49" cy="578.5" r="1.4" fill="#0000e8"/>
<circle cx="247.36" cy="578.5" r="1.4" fill="#0000e8"/>
<circle cx="255.23" cy="578.5" r="1.4" fill="#0000e8"/>
<circle cx="263.1" cy="578.5" r="1.4" fill="#0000e8"/>
<circle cx="270.97" cy="502.7" r="1.4" fill="#0000e8"/>
<circle cx="278.84" cy="502.7" r="1.4" fill="#0000e8"/>
<circle cx="286.71" cy="502.7" r="1.4" fill="#0000e8"/>
<circle cx="294.58" cy="502.7" r="1.4" fill="#0000e8"/>
<circle cx="302.45" cy="502.7" r="1.4" fill="#0000e8"/>
<text x="91.8" y="621.3" class="cap">(e) Local resource for project 3</text></g>
<g id="chart-f"><rect x="349.8" y="421" width="333.2" height="181.9" rx="0.6" fill="#fff" stroke="#b4b4b4" stroke-width="1.2"/>
<line x1="364" y1="579.1" x2="681.8" y2="579.1" stroke="#d8d8d8" stroke-width="0.8" stroke-dasharray="1 1.3"/>
<line x1="364" y1="502.1" x2="681.8" y2="502.1" stroke="#d8d8d8" stroke-width="0.8" stroke-dasharray="1 1.3"/>
<line x1="364" y1="425.1" x2="681.8" y2="425.1" stroke="#d8d8d8" stroke-width="0.8" stroke-dasharray="1 1.3"/>
<text transform="translate(362.2,581.2) scale(0.85,1)" class="tk" text-anchor="end">0</text>
<text transform="translate(362.2,504.2) scale(0.85,1)" class="tk" text-anchor="end">1</text>
<text transform="translate(362.2,427.2) scale(0.85,1)" class="tk" text-anchor="end">2</text>
<text transform="translate(367,586.3) scale(0.85,1)" class="tk" text-anchor="middle">0</text>
<text transform="translate(445.3,586.3) scale(0.85,1)" class="tk" text-anchor="middle">10</text>
<text transform="translate(523.6,586.3) scale(0.85,1)" class="tk" text-anchor="middle">20</text>
<text transform="translate(601.9,586.3) scale(0.85,1)" class="tk" text-anchor="middle">30</text>
<text transform="translate(680.2,586.3) scale(0.85,1)" class="tk" text-anchor="middle">40</text>
<text transform="translate(524,591) scale(0.86,1)" class="tp" text-anchor="middle">Time Period</text>
<text transform="translate(356.1,503.1) rotate(-90)" class="yt" text-anchor="middle">Number of Assigned Local Resource for Project 4</text>
<circle cx="446.6" cy="596.7" r="1.3" fill="#1399a6"/>
<text transform="translate(448.4,598.4) scale(0.8,1)" class="lg">Dynamic Resource Allocation (Proposed Model)</text>
<circle cx="539.2" cy="596.7" r="1.3" fill="#0000e8"/>
<text transform="translate(541,598.4) scale(0.8,1)" class="lg">Static Resource Allocation</text>
<path d="M374.83,579.1H457.05V502.1H472.7V579.1H535.35V502.1H597.99V579.1H648.88" fill="none" stroke="#2ea8b4" stroke-width="1.4" stroke-linejoin="miter"/>
<circle cx="374.83" cy="579.1" r="1.4" fill="#1399a6"/>
<circle cx="382.66" cy="579.1" r="1.4" fill="#1399a6"/>
<circle cx="390.49" cy="579.1" r="1.4" fill="#1399a6"/>
<circle cx="398.32" cy="579.1" r="1.4" fill="#1399a6"/>
<circle cx="406.15" cy="579.1" r="1.4" fill="#1399a6"/>
<circle cx="413.98" cy="579.1" r="1.4" fill="#1399a6"/>
<circle cx="421.81" cy="579.1" r="1.4" fill="#1399a6"/>
<circle cx="429.64" cy="579.1" r="1.4" fill="#1399a6"/>
<circle cx="437.47" cy="579.1" r="1.4" fill="#1399a6"/>
<circle cx="445.3" cy="579.1" r="1.4" fill="#1399a6"/>
<circle cx="453.13" cy="579.1" r="1.4" fill="#1399a6"/>
<circle cx="460.96" cy="502.1" r="1.4" fill="#1399a6"/>
<circle cx="468.79" cy="502.1" r="1.4" fill="#1399a6"/>
<circle cx="476.62" cy="579.1" r="1.4" fill="#1399a6"/>
<circle cx="484.45" cy="579.1" r="1.4" fill="#1399a6"/>
<circle cx="492.28" cy="579.1" r="1.4" fill="#1399a6"/>
<circle cx="500.11" cy="579.1" r="1.4" fill="#1399a6"/>
<circle cx="507.94" cy="579.1" r="1.4" fill="#1399a6"/>
<circle cx="515.77" cy="579.1" r="1.4" fill="#1399a6"/>
<circle cx="523.6" cy="579.1" r="1.4" fill="#1399a6"/>
<circle cx="531.43" cy="579.1" r="1.4" fill="#1399a6"/>
<circle cx="539.26" cy="502.1" r="1.4" fill="#1399a6"/>
<circle cx="547.09" cy="502.1" r="1.4" fill="#1399a6"/>
<circle cx="554.92" cy="502.1" r="1.4" fill="#1399a6"/>
<circle cx="562.75" cy="502.1" r="1.4" fill="#1399a6"/>
<circle cx="570.58" cy="502.1" r="1.4" fill="#1399a6"/>
<circle cx="578.41" cy="502.1" r="1.4" fill="#1399a6"/>
<circle cx="586.24" cy="502.1" r="1.4" fill="#1399a6"/>
<circle cx="594.07" cy="502.1" r="1.4" fill="#1399a6"/>
<circle cx="601.9" cy="579.1" r="1.4" fill="#1399a6"/>
<circle cx="609.73" cy="579.1" r="1.4" fill="#1399a6"/>
<circle cx="617.56" cy="579.1" r="1.4" fill="#1399a6"/>
<circle cx="625.39" cy="579.1" r="1.4" fill="#1399a6"/>
<circle cx="633.22" cy="579.1" r="1.4" fill="#1399a6"/>
<circle cx="641.05" cy="579.1" r="1.4" fill="#1399a6"/>
<circle cx="648.88" cy="579.1" r="1.4" fill="#1399a6"/>
<path d="M374.83,579.1H472.7V502.1H488.37V579.1H551V502.1H613.64V579.1H648.88" fill="none" stroke="#4444ff" stroke-width="1.4" stroke-linejoin="miter"/>
<circle cx="374.83" cy="579.1" r="1.4" fill="#0000e8"/>
<circle cx="382.66" cy="579.1" r="1.4" fill="#0000e8"/>
<circle cx="390.49" cy="579.1" r="1.4" fill="#0000e8"/>
<circle cx="398.32" cy="579.1" r="1.4" fill="#0000e8"/>
<circle cx="406.15" cy="579.1" r="1.4" fill="#0000e8"/>
<circle cx="413.98" cy="579.1" r="1.4" fill="#0000e8"/>
<circle cx="421.81" cy="579.1" r="1.4" fill="#0000e8"/>
<circle cx="429.64" cy="579.1" r="1.4" fill="#0000e8"/>
<circle cx="437.47" cy="579.1" r="1.4" fill="#0000e8"/>
<circle cx="445.3" cy="579.1" r="1.4" fill="#0000e8"/>
<circle cx="453.13" cy="579.1" r="1.4" fill="#0000e8"/>
<circle cx="460.96" cy="579.1" r="1.4" fill="#0000e8"/>
<circle cx="468.79" cy="579.1" r="1.4" fill="#0000e8"/>
<circle cx="476.62" cy="502.1" r="1.4" fill="#0000e8"/>
<circle cx="484.45" cy="502.1" r="1.4" fill="#0000e8"/>
<circle cx="492.28" cy="579.1" r="1.4" fill="#0000e8"/>
<circle cx="500.11" cy="579.1" r="1.4" fill="#0000e8"/>
<circle cx="507.94" cy="579.1" r="1.4" fill="#0000e8"/>
<circle cx="515.77" cy="579.1" r="1.4" fill="#0000e8"/>
<circle cx="523.6" cy="579.1" r="1.4" fill="#0000e8"/>
<circle cx="531.43" cy="579.1" r="1.4" fill="#0000e8"/>
<circle cx="539.26" cy="579.1" r="1.4" fill="#0000e8"/>
<circle cx="547.09" cy="579.1" r="1.4" fill="#0000e8"/>
<circle cx="554.92" cy="502.1" r="1.4" fill="#0000e8"/>
<circle cx="562.75" cy="502.1" r="1.4" fill="#0000e8"/>
<circle cx="570.58" cy="502.1" r="1.4" fill="#0000e8"/>
<circle cx="578.41" cy="502.1" r="1.4" fill="#0000e8"/>
<circle cx="586.24" cy="502.1" r="1.4" fill="#0000e8"/>
<circle cx="594.07" cy="502.1" r="1.4" fill="#0000e8"/>
<circle cx="601.9" cy="502.1" r="1.4" fill="#0000e8"/>
<circle cx="609.73" cy="502.1" r="1.4" fill="#0000e8"/>
<circle cx="617.56" cy="579.1" r="1.4" fill="#0000e8"/>
<circle cx="625.39" cy="579.1" r="1.4" fill="#0000e8"/>
<circle cx="633.22" cy="579.1" r="1.4" fill="#0000e8"/>
<circle cx="641.05" cy="579.1" r="1.4" fill="#0000e8"/>
<circle cx="648.88" cy="579.1" r="1.4" fill="#0000e8"/>
<text x="439" y="621.6" class="cap">(f) Local resource for project 4</text></g>
<g id="chart-g"><rect x="176.4" y="632.3" width="338.6" height="179.6" rx="0.6" fill="#fff" stroke="#b4b4b4" stroke-width="1.2"/>
<line x1="190" y1="788.5" x2="513.6" y2="788.5" stroke="#d8d8d8" stroke-width="0.8" stroke-dasharray="1 1.3"/>
<line x1="190" y1="766.91" x2="513.6" y2="766.91" stroke="#d8d8d8" stroke-width="0.8" stroke-dasharray="1 1.3"/>
<line x1="190" y1="745.32" x2="513.6" y2="745.32" stroke="#d8d8d8" stroke-width="0.8" stroke-dasharray="1 1.3"/>
<line x1="190" y1="723.73" x2="513.6" y2="723.73" stroke="#d8d8d8" stroke-width="0.8" stroke-dasharray="1 1.3"/>
<line x1="190" y1="702.14" x2="513.6" y2="702.14" stroke="#d8d8d8" stroke-width="0.8" stroke-dasharray="1 1.3"/>
<line x1="190" y1="680.55" x2="513.6" y2="680.55" stroke="#d8d8d8" stroke-width="0.8" stroke-dasharray="1 1.3"/>
<line x1="190" y1="658.96" x2="513.6" y2="658.96" stroke="#d8d8d8" stroke-width="0.8" stroke-dasharray="1 1.3"/>
<line x1="190" y1="637.37" x2="513.6" y2="637.37" stroke="#d8d8d8" stroke-width="0.8" stroke-dasharray="1 1.3"/>
<text transform="translate(188.4,790.6) scale(0.85,1)" class="tk" text-anchor="end">0</text>
<text transform="translate(188.4,769.01) scale(0.85,1)" class="tk" text-anchor="end">1</text>
<text transform="translate(188.4,747.42) scale(0.85,1)" class="tk" text-anchor="end">2</text>
<text transform="translate(188.4,725.83) scale(0.85,1)" class="tk" text-anchor="end">3</text>
<text transform="translate(188.4,704.24) scale(0.85,1)" class="tk" text-anchor="end">4</text>
<text transform="translate(188.4,682.65) scale(0.85,1)" class="tk" text-anchor="end">5</text>
<text transform="translate(188.4,661.06) scale(0.85,1)" class="tk" text-anchor="end">6</text>
<text transform="translate(188.4,639.47) scale(0.85,1)" class="tk" text-anchor="end">7</text>
<text transform="translate(193.4,796.3) scale(0.85,1)" class="tk" text-anchor="middle">0</text>
<text transform="translate(272.74,796.3) scale(0.85,1)" class="tk" text-anchor="middle">10</text>
<text transform="translate(352.08,796.3) scale(0.85,1)" class="tk" text-anchor="middle">20</text>
<text transform="translate(431.42,796.3) scale(0.85,1)" class="tk" text-anchor="middle">30</text>
<text transform="translate(510.76,796.3) scale(0.85,1)" class="tk" text-anchor="middle">40</text>
<text transform="translate(352,801.4) scale(0.86,1)" class="tp" text-anchor="middle">Time Period</text>
<text transform="translate(182.6,712.93) rotate(-90)" class="yt" text-anchor="middle">Total Number of Assigned Global Resources</text>
<circle cx="274.1" cy="806.6" r="1.3" fill="#1399a6"/>
<text transform="translate(275.9,808.3) scale(0.8,1)" class="lg">Dynamic Resource Allocation (Proposed Model)</text>
<circle cx="367.8" cy="806.6" r="1.3" fill="#0000e8"/>
<text transform="translate(369.6,808.3) scale(0.8,1)" class="lg">Static Resource Allocation</text>
<path d="M201.33,637.37H379.85V680.55H387.78V637.37H435.39V680.55H443.32V788.5H479.02" fill="none" stroke="#2ea8b4" stroke-width="1.4" stroke-linejoin="miter"/>
<circle cx="201.33" cy="637.37" r="1.4" fill="#1399a6"/>
<circle cx="209.27" cy="637.37" r="1.4" fill="#1399a6"/>
<circle cx="217.2" cy="637.37" r="1.4" fill="#1399a6"/>
<circle cx="225.14" cy="637.37" r="1.4" fill="#1399a6"/>
<circle cx="233.07" cy="637.37" r="1.4" fill="#1399a6"/>
<circle cx="241" cy="637.37" r="1.4" fill="#1399a6"/>
<circle cx="248.94" cy="637.37" r="1.4" fill="#1399a6"/>
<circle cx="256.87" cy="637.37" r="1.4" fill="#1399a6"/>
<circle cx="264.81" cy="637.37" r="1.4" fill="#1399a6"/>
<circle cx="272.74" cy="637.37" r="1.4" fill="#1399a6"/>
<circle cx="280.67" cy="637.37" r="1.4" fill="#1399a6"/>
<circle cx="288.61" cy="637.37" r="1.4" fill="#1399a6"/>
<circle cx="296.54" cy="637.37" r="1.4" fill="#1399a6"/>
<circle cx="304.48" cy="637.37" r="1.4" fill="#1399a6"/>
<circle cx="312.41" cy="637.37" r="1.4" fill="#1399a6"/>
<circle cx="320.34" cy="637.37" r="1.4" fill="#1399a6"/>
<circle cx="328.28" cy="637.37" r="1.4" fill="#1399a6"/>
<circle cx="336.21" cy="637.37" r="1.4" fill="#1399a6"/>
<circle cx="344.15" cy="637.37" r="1.4" fill="#1399a6"/>
<circle cx="352.08" cy="637.37" r="1.4" fill="#1399a6"/>
<circle cx="360.01" cy="637.37" r="1.4" fill="#1399a6"/>
<circle cx="367.95" cy="637.37" r="1.4" fill="#1399a6"/>
<circle cx="375.88" cy="637.37" r="1.4" fill="#1399a6"/>
<circle cx="383.82" cy="680.55" r="1.4" fill="#1399a6"/>
<circle cx="391.75" cy="637.37" r="1.4" fill="#1399a6"/>
<circle cx="399.68" cy="637.37" r="1.4" fill="#1399a6"/>
<circle cx="407.62" cy="637.37" r="1.4" fill="#1399a6"/>
<circle cx="415.55" cy="637.37" r="1.4" fill="#1399a6"/>
<circle cx="423.49" cy="637.37" r="1.4" fill="#1399a6"/>
<circle cx="431.42" cy="637.37" r="1.4" fill="#1399a6"/>
<circle cx="439.35" cy="680.55" r="1.4" fill="#1399a6"/>
<circle cx="447.29" cy="788.5" r="1.4" fill="#1399a6"/>
<circle cx="455.22" cy="788.5" r="1.4" fill="#1399a6"/>
<circle cx="463.16" cy="788.5" r="1.4" fill="#1399a6"/>
<circle cx="471.09" cy="788.5" r="1.4" fill="#1399a6"/>
<circle cx="479.02" cy="788.5" r="1.4" fill="#1399a6"/>
<path d="M201.33,637.37H229.1V658.96H237.04V637.37H244.97V658.96H260.84V637.37H268.77V745.32H276.71V680.55H284.64V658.96H308.44V637.37H316.38V680.55H332.25V637.37H340.18V680.55H348.11V658.96H363.98V637.37H371.92V680.55H379.85V658.96H387.78V637.37H395.72V680.55H403.65V637.37H411.59V658.96H419.52V680.55H427.45V658.96H435.39V702.14H443.32V680.55H451.25V658.96H479.02" fill="none" stroke="#4444ff" stroke-width="1.4" stroke-linejoin="miter"/>
<circle cx="201.33" cy="637.37" r="1.4" fill="#0000e8"/>
<circle cx="209.27" cy="637.37" r="1.4" fill="#0000e8"/>
<circle cx="217.2" cy="637.37" r="1.4" fill="#0000e8"/>
<circle cx="225.14" cy="637.37" r="1.4" fill="#0000e8"/>
<circle cx="233.07" cy="658.96" r="1.4" fill="#0000e8"/>
<circle cx="241" cy="637.37" r="1.4" fill="#0000e8"/>
<circle cx="248.94" cy="658.96" r="1.4" fill="#0000e8"/>
<circle cx="256.87" cy="658.96" r="1.4" fill="#0000e8"/>
<circle cx="264.81" cy="637.37" r="1.4" fill="#0000e8"/>
<circle cx="272.74" cy="745.32" r="1.4" fill="#0000e8"/>
<circle cx="280.67" cy="680.55" r="1.4" fill="#0000e8"/>
<circle cx="288.61" cy="658.96" r="1.4" fill="#0000e8"/>
<circle cx="296.54" cy="658.96" r="1.4" fill="#0000e8"/>
<circle cx="304.48" cy="658.96" r="1.4" fill="#0000e8"/>
<circle cx="312.41" cy="637.37" r="1.4" fill="#0000e8"/>
<circle cx="320.34" cy="680.55" r="1.4" fill="#0000e8"/>
<circle cx="328.28" cy="680.55" r="1.4" fill="#0000e8"/>
<circle cx="336.21" cy="637.37" r="1.4" fill="#0000e8"/>
<circle cx="344.15" cy="680.55" r="1.4" fill="#0000e8"/>
<circle cx="352.08" cy="658.96" r="1.4" fill="#0000e8"/>
<circle cx="360.01" cy="658.96" r="1.4" fill="#0000e8"/>
<circle cx="367.95" cy="637.37" r="1.4" fill="#0000e8"/>
<circle cx="375.88" cy="680.55" r="1.4" fill="#0000e8"/>
<circle cx="383.82" cy="658.96" r="1.4" fill="#0000e8"/>
<circle cx="391.75" cy="637.37" r="1.4" fill="#0000e8"/>
<circle cx="399.68" cy="680.55" r="1.4" fill="#0000e8"/>
<circle cx="407.62" cy="637.37" r="1.4" fill="#0000e8"/>
<circle cx="415.55" cy="658.96" r="1.4" fill="#0000e8"/>
<circle cx="423.49" cy="680.55" r="1.4" fill="#0000e8"/>
<circle cx="431.42" cy="658.96" r="1.4" fill="#0000e8"/>
<circle cx="439.35" cy="702.14" r="1.4" fill="#0000e8"/>
<circle cx="447.29" cy="680.55" r="1.4" fill="#0000e8"/>
<circle cx="455.22" cy="658.96" r="1.4" fill="#0000e8"/>
<circle cx="463.16" cy="658.96" r="1.4" fill="#0000e8"/>
<circle cx="471.09" cy="658.96" r="1.4" fill="#0000e8"/>
<circle cx="479.02" cy="658.96" r="1.4" fill="#0000e8"/>
<text x="279.7" y="831.6" class="cap">(g) All of global resources</text></g>
</svg>
</body></html>
